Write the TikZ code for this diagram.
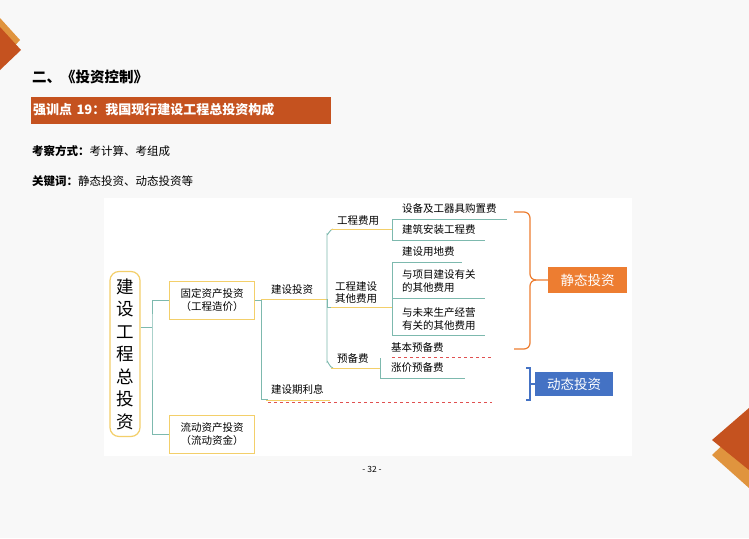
\documentclass[tikz,border=0pt]{standalone}
\usepackage{fontspec}
\setmainfont{Noto Sans CJK SC}
\setsansfont{Noto Sans CJK SC}
\definecolor{pg}{HTML}{F8F8F8}
\definecolor{ln}{HTML}{7DB9AE}
\definecolor{yl}{HTML}{F3CF6A}
\definecolor{dk}{HTML}{C5521F}
\definecolor{lt}{HTML}{E0943E}
\definecolor{og}{HTML}{ED7D31}
\definecolor{bl}{HTML}{4472C4}
\definecolor{rd}{HTML}{E05050}
\begin{document}
\begin{tikzpicture}[x=1pt,y=-1pt,
  lbl/.style={font=\fontsize{10.5}{12.5}\selectfont,inner sep=0pt,align=left},
  leaf/.style={font=\fontsize{10.5}{13.5}\selectfont,inner sep=0pt,align=left,anchor=west},
  conn/.style={draw=ln,line width=0.9pt},
  und/.style={draw=yl,line width=0.9pt},
  ybox/.style={draw=yl,line width=0.8pt,fill=white,font=\fontsize{10.5}{13}\selectfont,align=center,minimum width=85pt,minimum height=38pt,inner sep=1pt},
  rdash/.style={draw=rd,dashed,line width=0.8pt}]
\useasboundingbox (0,0) rectangle (749,538);
\fill[pg] (0,0) rectangle (749,538);
% decorations
\fill[lt] (0,18) -- (20,40) -- (0,62) -- cycle;
\fill[dk] (0,27) -- (21,50) -- (0,70) -- cycle;
\fill[lt] (749,420) -- (712,455) -- (749,488) -- cycle;
\fill[dk] (749,408) -- (712,440) -- (749,470) -- cycle;
% header
\node[anchor=west,inner sep=0pt,font=\fontsize{14.5}{16}\selectfont\bfseries] (t1) at (32,77) {二、《投资控制》};
\node[anchor=west,fill=dk,text=white,text width=296pt,align=left,minimum height=27pt,inner sep=2pt,font=\fontsize{13}{15}\selectfont\bfseries] (t2) at (31,110) {强训点 19：我国现行建设工程总投资构成};
\node[anchor=west,inner sep=0pt,font=\fontsize{11.5}{13}\selectfont] (t3) at (32,151) {\textbf{考察方式：}考计算、考组成};
\node[anchor=west,inner sep=0pt,font=\fontsize{11.5}{13}\selectfont] (t4) at (32,181) {\textbf{关键词：}静态投资、动态投资等};
% diagram area
\fill[white] (104,198) rectangle (632,456);
\node[draw=yl,line width=1.2pt,rounded corners=9pt,fill=white,minimum width=30pt,minimum height=165pt,font=\fontsize{17.5}{22.5}\selectfont,align=center,inner sep=0pt] (root) at (125,354) {建\\设\\工\\程\\总\\投\\资};
\node[ybox] (fa) at (212,300) {固定资产投资\\（工程造价）};
\node[ybox] (ca) at (212,434) {流动资产投资\\（流动资金）};
\coordinate (j1) at (152,327);
\draw[conn] (root.east |- j1) -- (j1);
\draw[conn] (fa.west) -| (j1) |- (ca.west);
% level 2
\node[lbl,anchor=south west] (js) at (271,295) {建设投资};
\node[lbl,anchor=south west] (jl) at (271,395) {建设期利息};
\draw[conn] (fa.east) -- (261,300) -- (261,399) -- (268,399);
\draw[und] (261,299) -- (327,299);
\draw[und] (266,400) -- (330,400);
\draw[rdash] (268,402) -- (492,402);
% level 3
\node[lbl,anchor=south west] (gf) at (337,226) {工程费用};
\node[lbl,anchor=south west] (gq) at (335,304) {工程建设\\其他费用};
\node[lbl,anchor=south west] (yb) at (337,364) {预备费};
\draw[conn] (327,299) -- (327,234) to[out=-90,in=180] (333,229);
\draw[conn] (327,299) -- (327,362) to[out=90,in=180] (333,368);
\draw[conn] (327,299) -- (327,307) -- (333,307);
\draw[und] (331,229) -- (392,229);
\draw[und] (331,307) -- (392,307);
\draw[und] (331,368) -- (380,368);
% level 4 : 工程费用
\node[leaf] (l1) at (402,209) {设备及工器具购置费};
\node[leaf] (l2) at (402,230) {建筑安装工程费};
\draw[conn] (392,229) -- (392,219) -- (507,219);
\draw[conn] (392,229) -- (392,240) -- (485,240);
% 其他费用
\node[leaf] (l3) at (402,252) {建设用地费};
\node[leaf] (l4) at (402,281) {与项目建设有关\\的其他费用};
\node[leaf] (l5) at (402,319) {与未来生产经营\\有关的其他费用};
\draw[conn] (392,307) -- (392,262) -- (462,262);
\draw[conn] (392,298) -- (485,298);
\draw[conn] (392,307) -- (392,335) -- (485,335);
% 预备费
\node[leaf] (l6) at (391,347) {基本预备费};
\node[leaf] (l7) at (391,368) {涨价预备费};
\draw[conn] (380,368) -- (380,378) -- (465,378);
\draw[conn] (380,368) -- (380,358);
\draw[rdash] (392,357) -- (492,357);
% braces
\node[fill=og,text=white,minimum width=79pt,minimum height=26pt,inner sep=0pt,font=\fontsize{13.5}{15}\selectfont] (jt) at (587.5,280) {静态投资};
\draw[og,line width=1.2pt] (514,212) -- (524,212) to[out=0,in=90] (530,218) -- (530,274) to[out=-90,in=180] (536,280) -- (jt.west);
\draw[og,line width=1.2pt] (514,349) -- (524,349) to[out=0,in=-90] (530,343) -- (530,286) to[out=90,in=180] (536,280);
\node[fill=bl,text=white,minimum width=78pt,minimum height=24pt,inner sep=0pt,font=\fontsize{13.5}{15}\selectfont] (dt) at (574,384) {动态投资};
\draw[bl,line width=1.1pt] (526,368) -- (530,368) -- (530,384) -- (dt.west);
\draw[bl,line width=1.1pt] (526,400) -- (530,400) -- (530,384);
\node[inner sep=0pt,font=\fontsize{8.5}{10}\selectfont] (pn) at (372,469) {- 32 -};
\end{tikzpicture}
\end{document}
